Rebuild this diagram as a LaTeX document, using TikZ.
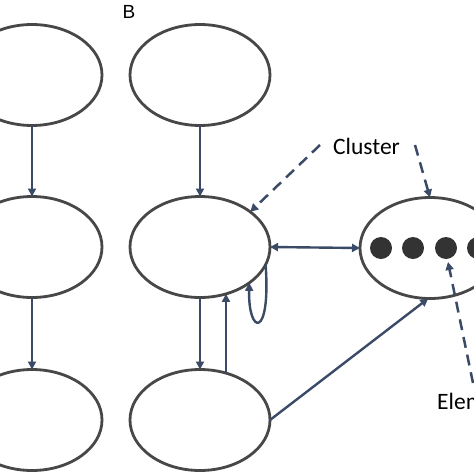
\documentclass[tikz,border=0pt]{standalone}
\usepackage{fontspec}
\setmainfont{Carlito}
\newfontfamily\arialfont{Liberation Sans}
\usetikzlibrary{shapes.geometric,arrows.meta}
\definecolor{ringcol}{HTML}{474747}
\definecolor{arrcol}{HTML}{3B4A66}
\definecolor{dotcol}{HTML}{333333}
\begin{document}
\begin{tikzpicture}[x=1pt,y=-1pt,
  ring/.style={ellipse,draw=ringcol,line width=2.8pt,minimum width=140pt,minimum height=101pt,inner sep=0pt,outer sep=0pt},
  link/.style={draw=arrcol,line width=2.4pt,-{Triangle[length=8pt,width=8pt]}},
  dlink/.style={draw=arrcol,line width=2.4pt,{Triangle[length=8pt,width=8pt]}-{Triangle[length=8pt,width=8pt]}},
  dashlink/.style={draw=arrcol,line width=2.5pt,dash pattern=on 11pt off 7pt,-{Triangle[length=8pt,width=8pt]}},
  dotnode/.style={circle,fill=dotcol,minimum size=22pt,inner sep=0pt},
  lab/.style={font=\fontsize{23.5}{25}\selectfont,text=black,inner sep=0pt}]
\useasboundingbox (0,0) rectangle (474,474);
\clip (0,0) rectangle (474,474);
\fill[white] (0,0) rectangle (474,474);
% left column
\node[ring] (a1) at (32,75) {};
\node[ring] (a2) at (32,247) {};
\node[ring] (a3) at (32,420) {};
% second column
\node[ring] (b1) at (200,75) {};
\node[ring] (b2) at (200,247) {};
\node[ring] (b3) at (200,420) {};
% cluster
\node[ring] (cl) at (430,248) {};
\node[dotnode] (d1) at (381,248) {};
\node[dotnode] (d2) at (413,248) {};
\node[dotnode] (d3) at (446,248) {};
\node[dotnode] (d4) at (478,248) {};
% labels
\node[font=\arialfont\fontsize{19}{21}\selectfont,inner sep=0pt] (blab) at (129,12) {B};
\node[lab,anchor=west] (clab) at (333,146) {Cluster};
\node[lab,anchor=west] (elab) at (437,401) {Element};
% connectors
\draw[link] (a1.south) -- (a2.north);
\draw[link] (a2.south) -- (a3.north);
\draw[link] (b1.south) -- (b2.north);
\draw[link] (b2.south) -- (b3.north);
\draw[link] (b3.61.8) -- (b2.-61.8);
\draw[link] (b2.-15) .. controls (271,340) and (248,335) .. (b2.-36);
\draw[dlink] (b2.east) -- (cl.west);
\draw[link] (b3.east) -- (cl.-92);
% dashed pointers
\coordinate (p1) at (320,145);
\coordinate (p2) at (415,145);
\coordinate (p3) at (473,383);
\coordinate (p4) at (448,262);
\draw[dashlink] (p1) -- (b2.35);
\draw[dashlink] (p2) -- (cl.north);
\draw[dashlink] (p3) -- (p4);
\end{tikzpicture}
\end{document}
